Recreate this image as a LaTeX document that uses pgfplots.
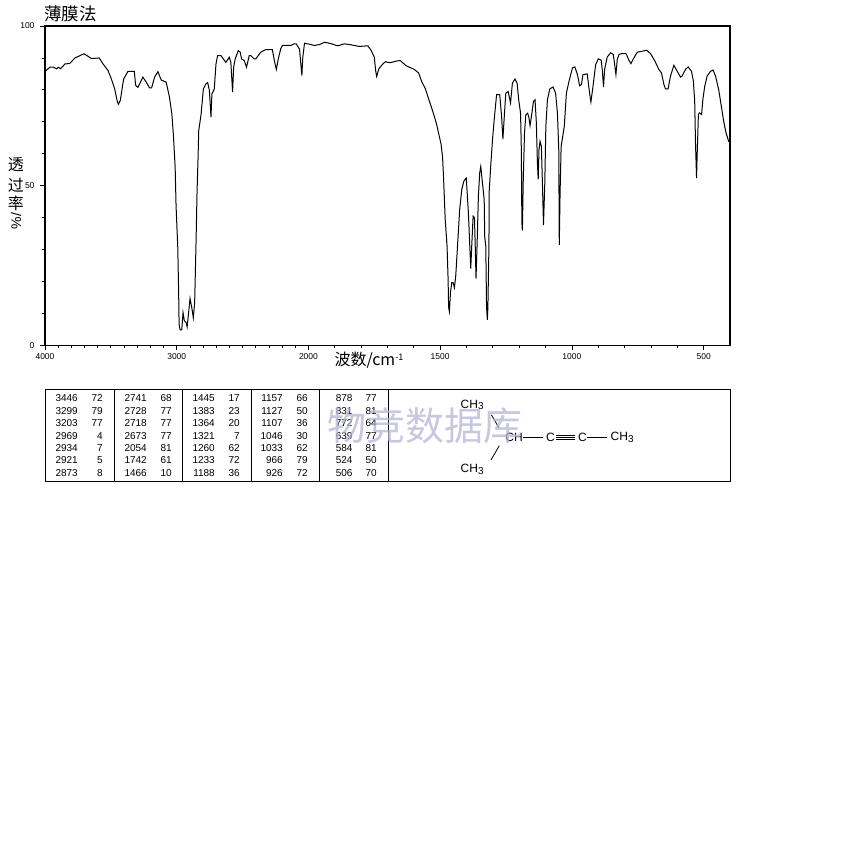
\documentclass[border=0pt]{standalone}
\usepackage{fontspec}
\usepackage{pgfplots}
\pgfplotsset{compat=1.18}
\setmainfont{Liberation Sans}
\newfontfamily\cjk{Noto Sans CJK SC}
\newcommand{\chthree}{CH\raisebox{-1.5pt}{\fontsize{10}{10}\selectfont 3}}
\begin{document}
\begin{tikzpicture}[x=1pt,y=1pt]
\path[fill=white] (0,0) rectangle (850,850);
\begin{axis}[
  at={(45pt,504.5pt)},anchor=south west,
  scale only axis,width=685pt,height=319.5pt,
  x coord trafo/.code={\pgfmathparse{#1>=2000?(4000-#1)/2:(3000-#1)}},
  xmin=4000,xmax=400,ymin=0,ymax=100,
  axis line style={line width=1.1pt},
  tick style={black,line width=0.8pt},
  tick pos=left,tick align=outside,
  major tick length=5pt,minor tick length=3pt,
  xtick={4000,3000,2000,1500,1000,500},
  xticklabels={4000,3000,2000,1500,1000,500},
  minor xtick={3900,3800,3700,3600,3400,3300,3200,3100,2900,2800,2700,2600,2400,2300,2200,2100,1900,1800,1700,1600,1400,1300,1200,1100,900,800,700,600,3500,2500},
  ytick={0,50,100},
  yticklabels={0,50,100},
  minor ytick={10,20,30,40,60,70,80,90},
  tick label style={font=\fontsize{8.5}{9}\selectfont},
  xticklabel style={yshift=0pt},
  yticklabel style={xshift=-2pt},
]
\addplot[black,line width=1pt,sharp plot,mark=none] table {
4000 85.8
3962 87.1
3937 87.1
3912 86.6
3897 87.1
3882 86.6
3849 88.1
3811 88.3
3773 90.0
3735 90.7
3705 91.3
3680 90.7
3647 89.8
3589 90.0
3559 88.1
3521 86.0
3496 83.4
3471 80.3
3453 76.7
3443 75.5
3428 76.7
3415 80.3
3403 83.4
3370 85.8
3345 85.8
3322 85.8
3312 81.4
3294 80.8
3257 84.0
3231 82.4
3206 80.6
3191 80.6
3168 84.0
3143 85.7
3118 83.1
3080 82.4
3055 77.7
3037 72.5
3025 65.7
3012 55.8
3005 43.6
2992 30.6
2985 15.5
2982 6.7
2975 4.9
2962 4.9
2952 10.3
2942 7.7
2929 7.2
2921 5.8
2911 9.8
2899 14.7
2886 11.9
2874 8.7
2864 13.4
2854 31.1
2846 47.7
2838 59.0
2833 67.2
2815 72.4
2798 80.3
2778 81.9
2765 82.3
2752 79.8
2740 71.5
2733 78.7
2715 80.3
2702 88.1
2690 90.7
2664 90.7
2627 88.6
2601 90.2
2589 88.6
2576 79.3
2568 87.1
2556 89.7
2533 92.3
2518 91.8
2508 89.7
2488 89.2
2470 87.1
2450 90.7
2437 90.7
2412 89.7
2400 89.7
2362 91.8
2324 92.6
2274 92.6
2259 89.2
2244 86.4
2229 89.7
2211 92.8
2198 93.9
2135 93.9
2110 94.4
2092 94.4
2077 93.3
2068 92.8
2050 84.5
2043 90.2
2030 94.6
2005 94.4
1977 93.9
1958 94.2
1939 94.9
1920 94.6
1889 93.8
1864 94.4
1845 94.2
1807 93.6
1775 93.8
1763 92.5
1750 90.2
1745 86.0
1741 84.2
1733 86.6
1718 88.1
1708 88.8
1690 88.5
1667 89.0
1652 89.2
1630 87.6
1598 86.4
1582 85.3
1569 82.4
1556 80.3
1544 77.2
1529 73.5
1514 69.4
1497 63.1
1491 59.0
1487 52.0
1481 39.5
1474 31.1
1470 20.7
1468 11.9
1465 10.6
1461 16.6
1456 19.7
1451 19.7
1446 18.1
1441 21.8
1435 30.1
1426 42.6
1418 48.9
1410 51.5
1401 52.4
1393 41.6
1388 31.7
1384 24.1
1380 31.7
1375 40.5
1370 40.0
1367 31.1
1364 20.9
1359 34.3
1355 46.8
1350 54.0
1346 56.0
1341 52.0
1333 45.6
1331 34.0
1327 31.1
1324 11.9
1321 8.0
1319 11.9
1315 31.1
1314 48.2
1308 56.5
1301 64.9
1295 70.7
1286 78.5
1274 78.5
1267 71.7
1262 64.6
1256 72.7
1251 79.0
1242 79.5
1233 75.9
1226 82.1
1216 83.4
1208 82.1
1202 76.9
1195 72.7
1192 61.3
1190 38.3
1188 36.0
1185 50.8
1180 66.5
1175 72.2
1168 72.7
1163 71.2
1159 68.8
1152 72.7
1146 76.4
1140 76.9
1135 69.6
1131 57.1
1128 52.0
1125 61.3
1121 63.9
1116 62.3
1112 50.8
1108 37.7
1103 50.8
1099 68.6
1093 76.9
1084 80.3
1072 80.9
1062 79.0
1055 72.7
1050 61.3
1048 31.5
1045 47.7
1041 62.3
1036 64.9
1029 68.6
1021 79.0
1011 82.7
998 86.9
989 87.2
979 84.8
971 81.3
964 81.7
958 84.8
942 85.0
933 79.0
928 76.2
920 81.1
910 87.9
900 89.7
889 89.3
885 86.4
880 80.9
876 86.4
866 90.3
853 91.6
843 91.1
837 87.4
833 84.8
828 89.5
821 91.1
809 91.4
794 91.3
784 89.3
776 88.2
765 90.0
752 91.8
733 92.1
717 92.4
702 91.4
685 89.0
670 86.4
660 85.3
651 81.7
645 80.3
635 80.3
626 84.3
613 87.7
600 85.8
588 84.0
582 84.3
569 86.4
559 87.2
546 85.8
539 82.7
534 76.4
531 63.4
527 52.4
525 58.7
520 72.3
516 72.8
508 72.3
503 77.0
496 81.1
487 84.3
474 85.8
464 86.2
455 84.3
443 80.1
433 74.9
424 70.2
415 66.5
405 63.9
400 63.5
};
\end{axis}
\begin{scope}[y=-1pt,yshift=850pt]
% titles
\node[anchor=west,inner sep=0pt,font=\cjk\fontsize{17.5}{18}\selectfont] at (44,14) {薄膜法};
\node[anchor=center,inner sep=0pt,font=\cjk\fontsize{16}{17}\selectfont] at (369,360) {波数/cm\raisebox{5pt}{\fontsize{9}{9}\selectfont -1}};
\node[inner sep=0pt,font=\cjk\fontsize{16}{17}\selectfont] at (16,165) {透};
\node[inner sep=0pt,font=\cjk\fontsize{16}{17}\selectfont] at (16,185) {过};
\node[inner sep=0pt,font=\cjk\fontsize{16}{17}\selectfont] at (16,203) {率};
\node[inner sep=0pt,rotate=90,font=\fontsize{14}{15}\selectfont] at (16,221) {\%/};
% table
\draw[line width=1.1pt] (45.5,389.5) rectangle (730.5,481.5);
\foreach \x in {114.3,182.3,251.5,319.5,388.3} \draw[line width=1.1pt] (\x,389.5)--(\x,481.5);
\newcommand{\row}[3]{%
  \foreach \a/\b/\r/\s in {#3} {
    \node[anchor=east,inner sep=0pt,font=\fontsize{10}{10}\selectfont] at (\r,#1) {\a};
    \node[anchor=east,inner sep=0pt,font=\fontsize{10}{10}\selectfont] at (\s,#1) {\b};
  }}
\row{398.3}{}{3446/72/78/103,2741/68/147/172,1445/17/215/240,1157/66/283/308,878/77/352.7/377}
\row{410.8}{}{3299/79/78/103,2728/77/147/172,1383/23/215/240,1127/50/283/308,831/81/352.7/377}
\row{423.2}{}{3203/77/78/103,2718/77/147/172,1364/20/215/240,1107/36/283/308,772/64/352.7/377}
\row{435.6}{}{2969/4/78/103,2673/77/147/172,1321/7/215/240,1046/30/283/308,639/77/352.7/377}
\row{448}{}{2934/7/78/103,2054/81/147/172,1260/62/215/240,1033/62/283/308,584/81/352.7/377}
\row{460.4}{}{2921/5/78/103,1742/61/147/172,1233/72/215/240,966/79/283/308,524/50/352.7/377}
\row{472.8}{}{2873/8/78/103,1466/10/147/172,1188/36/215/240,926/72/283/308,506/70/352.7/377}
% structure
\node[anchor=west,inner sep=0pt,font=\fontsize{12}{12}\selectfont] at (460.5,405) {\chthree};
\node[anchor=west,inner sep=0pt,font=\fontsize{12}{12}\selectfont] at (460.5,469.5) {\chthree};
\node[inner sep=0pt,font=\fontsize{12}{12}\selectfont] at (514,437) {CH};
\node[inner sep=0pt,font=\fontsize{12}{12}\selectfont] at (550.5,437) {C};
\node[inner sep=0pt,font=\fontsize{12}{12}\selectfont] at (582.5,437) {C};
\node[anchor=west,inner sep=0pt,font=\fontsize{12}{12}\selectfont] at (610.5,437.5) {\chthree};
\draw[line width=0.8pt] (523,437)--(543,437);
\draw[line width=0.8pt] (587,437)--(607,437);
\draw[line width=0.7pt] (556,435)--(575,435) (556,437)--(575,437) (556,439)--(575,439);
\draw[line width=0.8pt] (491.5,415)--(499,428);
\draw[line width=0.8pt] (499.3,445.7)--(491,460);
% watermark
\node[inner sep=0pt,opacity=0.75,text=blue!30!gray!45!white,font=\cjk\fontsize{39}{40}\selectfont] at (424.5,426) {物竞数据库};
\end{scope}
\end{tikzpicture}
\end{document}
